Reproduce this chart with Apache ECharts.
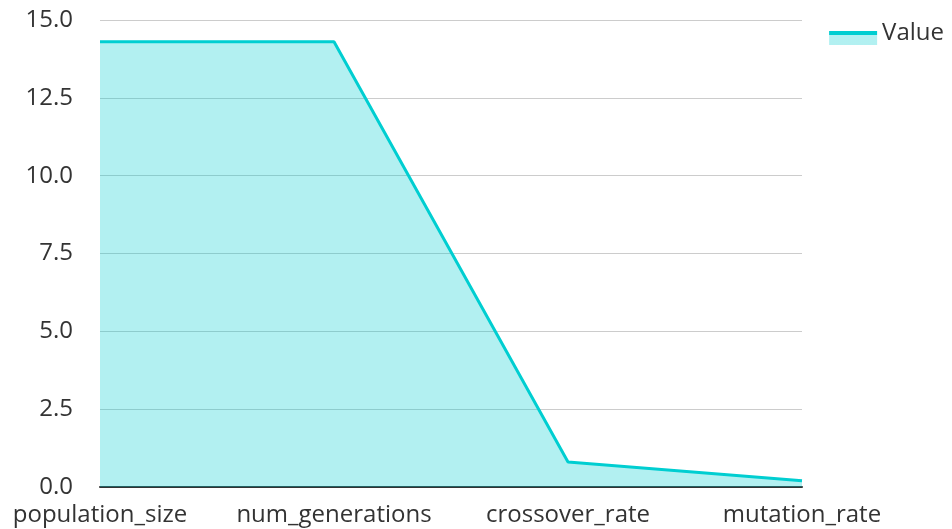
<!DOCTYPE html>
<html>
<head>
<meta charset="utf-8">
<script src="https://cdn.jsdelivr.net/npm/echarts@6/dist/echarts.min.js"></script>
<style>
    html, body { margin: 0; padding: 0; background: #fff; }
    #chart { width: 952px; height: 529px; }
</style>
</head>
<body>
<div id="chart"></div>
<script>
let categories = ['population_size', 'num_generations', 'crossover_rate', 'mutation_rate'];
let values = [14.3, 14.3, 0.8, 0.2];
let yTicks = { min: 0, max: 15, interval: 2.5 };

let chart = echarts.init(document.getElementById('chart'));

// legend swatch: empty top part, solid line, light fill below (sits lower than the text)
let swatch = new echarts.graphic.LinearGradient(0, 0, 0, 1, [
    { offset: 0, color: 'rgba(255, 255, 255, 0)' },
    { offset: 0.417, color: 'rgba(255, 255, 255, 0)' },
    { offset: 0.417, color: '#00CED1' },
    { offset: 0.583, color: '#00CED1' },
    { offset: 0.583, color: 'rgba(0, 206, 209, 0.3)' },
    { offset: 1, color: 'rgba(0, 206, 209, 0.3)' }
]);

chart.setOption({
    textStyle: { fontFamily: 'Open Sans' },
    legend: {
        right: 3,
        top: 16,
        icon: 'rect',
        itemWidth: 48,
        itemHeight: 24,
        itemGap: 6,
        itemStyle: { color: swatch },
        textStyle: { fontSize: 24, color: '#333', fontFamily: 'Open Sans' },
        data: ['Value']
    },
    grid: { left: 100, right: 150, top: 20, bottom: 42 },
    xAxis: {
        type: 'category',
        data: categories,
        boundaryGap: false,
        axisLine: { lineStyle: { color: '#333', width: 2 } },
        axisTick: { show: false },
        axisLabel: { fontSize: 24, color: '#333', margin: 16, interval: 0 }
    },
    yAxis: {
        type: 'value',
        min: yTicks.min,
        max: yTicks.max,
        interval: yTicks.interval,
        axisLine: { show: false },
        axisTick: { show: false },
        splitLine: { lineStyle: { color: '#ccc', width: 1 } },
        axisLabel: {
            fontSize: 24,
            color: '#333',
            margin: 27,
            formatter: function (v) { return v.toFixed(1); }
        }
    },
    series: [{
        name: 'Value',
        type: 'line',
        data: values,
        symbol: 'none',
        lineStyle: { color: '#00CED1', width: 3 },
        itemStyle: { color: '#00CED1' },
        areaStyle: { color: '#00CED1', opacity: 0.3 }
    }]
});
</script>
</body>
</html>
